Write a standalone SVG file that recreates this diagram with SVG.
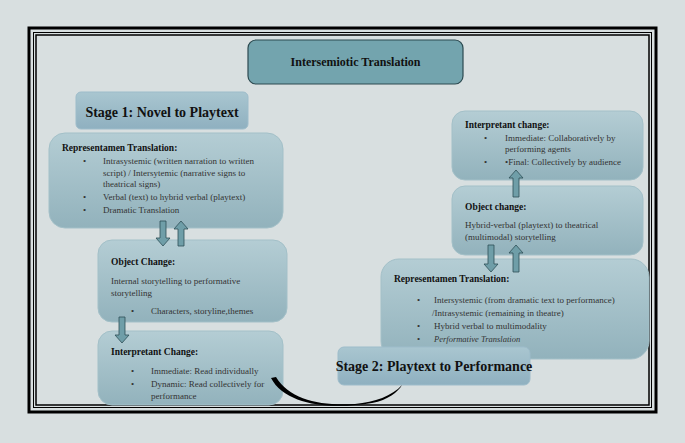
<svg xmlns="http://www.w3.org/2000/svg" width="685" height="443" viewBox="0 0 685 443">
<defs>
<linearGradient id="g" x1="0" y1="0" x2="0" y2="1"><stop offset="0" stop-color="#b4cdd4"/><stop offset="1" stop-color="#92b2bc"/></linearGradient>
<linearGradient id="gs" x1="0" y1="0" x2="0" y2="1"><stop offset="0" stop-color="#a9c6d0"/><stop offset="1" stop-color="#8fb0c0"/></linearGradient>
</defs>
<style>
.b{fill:url(#g);stroke:#a3c0c8;stroke-width:1}
.t{font-family:"Liberation Serif",serif;font-size:9px;fill:#333}
.h{font-family:"Liberation Serif",serif;font-size:9.5px;font-weight:bold;fill:#111}
.s{font-family:"Liberation Serif",serif;font-size:14px;font-weight:bold;fill:#111}
.ar{fill:#6f9ea8;stroke:#2f4f57;stroke-width:0.8}
</style>
<rect width="685" height="443" fill="#d8dfe0"/>
<rect x="29" y="28" width="627" height="384" fill="none" stroke="#000" stroke-width="3"/>
<rect x="33.5" y="32.5" width="618" height="375" fill="none" stroke="#000" stroke-width="1"/>
<rect x="36" y="35" width="613" height="370" fill="none" stroke="#000" stroke-width="1.5"/>
<g id="title"><rect x="248" y="40" width="215" height="44" rx="8" fill="#73a4ae" stroke="#2c4a50" stroke-width="1.2"/><text x="355.5" y="66" text-anchor="middle" class="h" style="font-size:12px">Intersemiotic Translation</text></g>
<g id="rep2"><rect x="381" y="259" width="268" height="100" rx="18" class="b"/>
<text x="394" y="282" class="h">Representamen Translation:</text>
<text class="t"><tspan x="417" y="303">•</tspan><tspan x="434" y="303">Intersystemic (from dramatic text to performance)</tspan><tspan x="432" y="316">/Intrasystemic (remaining in theatre)</tspan><tspan x="417" y="329">•</tspan><tspan x="434" y="329">Hybrid verbal to multimodality</tspan><tspan x="417" y="342">•</tspan><tspan x="434" y="342" font-style="italic" font-size="8.5">Performative Translation</tspan></text></g>
<g id="stage1"><rect x="76" y="92" width="172" height="37" rx="5" fill="url(#gs)" stroke="#9dbcca"/><text x="162" y="117" text-anchor="middle" class="s">Stage 1: Novel to Playtext</text></g>
<g id="rep1"><rect x="49" y="133" width="234" height="95" rx="16" class="b"/>
<text x="62" y="151" class="h">Representamen Translation:</text>
<text class="t"><tspan x="83" y="164">•</tspan><tspan x="103" y="164">Intrasystemic (written narration to written</tspan><tspan x="103" y="176">script) / Intersytemic (narrative signs to</tspan><tspan x="103" y="187">theatrical signs)</tspan><tspan x="83" y="200">•</tspan><tspan x="103" y="200">Verbal (text) to hybrid verbal (playtext)</tspan><tspan x="83" y="213">•</tspan><tspan x="103" y="213">Dramatic Translation</tspan></text></g>
<g id="obj1"><rect x="98" y="240" width="189" height="82" rx="14" class="b"/>
<text x="111" y="265" class="h">Object Change:</text>
<text class="t"><tspan x="111" y="284">Internal storytelling to performative</tspan><tspan x="111" y="296">storytelling</tspan><tspan x="131" y="314">•</tspan><tspan x="151" y="314">Characters, storyline,themes</tspan></text></g>
<g id="int1"><rect x="98" y="331" width="185" height="74" rx="14" class="b"/>
<text x="111" y="355" class="h">Interpretant Change:</text>
<text class="t"><tspan x="131" y="374">•</tspan><tspan x="151" y="374">Immediate: Read individually</tspan><tspan x="131" y="387">•</tspan><tspan x="151" y="387">Dynamic: Read collectively for</tspan><tspan x="151" y="399">performance</tspan></text></g>
<g id="int2"><rect x="452" y="111" width="191" height="69" rx="13" class="b"/>
<text x="465" y="128" class="h">Interpretant change:</text>
<text class="t"><tspan x="484" y="141">•</tspan><tspan x="505" y="141">Immediate: Collaboratively by</tspan><tspan x="505" y="152">performing agents</tspan><tspan x="484" y="165">•</tspan><tspan x="505" y="165">•Final: Collectively by audience</tspan></text></g>
<g id="obj2"><rect x="452" y="186" width="191" height="69" rx="13" class="b"/>
<text x="465" y="210" class="h">Object change:</text>
<text class="t"><tspan x="465" y="228">Hybrid-verbal (playtext) to theatrical</tspan><tspan x="465" y="240">(multimodal) storytelling</tspan></text></g>
<g id="stage2"><rect x="338" y="347" width="192" height="38" rx="6" fill="url(#gs)" stroke="#9dbcca"/><text x="434" y="371" text-anchor="middle" class="s">Stage 2: Playtext to Performance</text></g>
<g id="connectors">
<path class="ar" d="M160 221h6v17h4l-7 8l-7-8h4z"/>
<path class="ar" d="M178 246h6v-17h4l-7-8l-7 8h4z"/>
<path class="ar" d="M119 317h6v18h4l-7 8l-7-8h4z"/>
<path class="ar" d="M488 245h6v19h4l-7 8l-7-8h4z"/>
<path class="ar" d="M513 272h6v-19h4l-7-8l-7 8h4z"/>
<path class="ar" d="M513 197h6v-19h4l-7-8l-7 8h4z"/>
<path d="M271 378 C 285 405, 330 410, 372 403 C 388 400, 398 392, 402 385 C 392 396, 375 402, 355 404 C 320 406, 290 400, 276 377 Z" fill="#000"/>
</g>
</svg>
